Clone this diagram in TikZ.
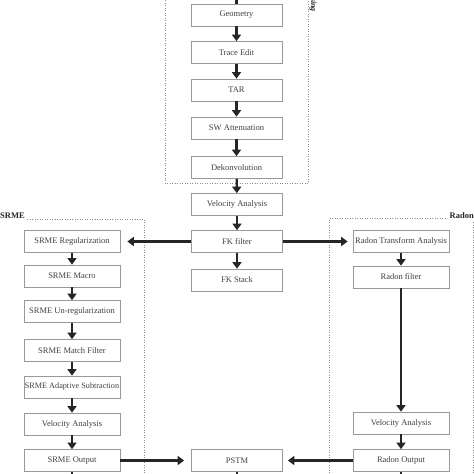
\documentclass[tikz,border=0pt]{standalone}
\usepackage{fontspec}
\setmainfont{Liberation Serif}
\usetikzlibrary{arrows.meta}
\begin{document}
\begin{tikzpicture}[x=1pt,y=-1pt,
  box/.style={draw=black!40, line width=0.7pt, fill=white, minimum width=91pt, minimum height=22pt, inner sep=1pt, font=\fontsize{8.5}{10}\selectfont, text=black!75},
  wbox/.style={box, minimum width=96pt},
  flow/.style={line width=2.3pt, draw=black!85, -{Triangle[length=6.5pt,width=9pt]}},
  plain/.style={line width=2.3pt, draw=black!85},
  grp/.style={draw=black!45, line width=0.5pt, dotted},
  grplabel/.style={font=\bfseries\fontsize{8.5}{10}\selectfont, text=black!85, inner sep=0pt}
]
\useasboundingbox (0,0) rectangle (474,474);
\clip (0,0) rectangle (474,474);
\fill[white] (0,0) rectangle (474,474);

% group frames
\draw[grp] (165,-5) -- (165,183) -- (308,183) -- (308,-5);
\node[grplabel, font=\bfseries\itshape\fontsize{8}{9}\selectfont, rotate=-90, anchor=east] (prelabel) at (313,12) {Preprocessing};
\draw[grp] (27,219) -- (144,219) -- (144,480);
\node[grplabel, anchor=south west] (srmelabel) at (0,219) {SRME};
\draw[grp] (329,480) -- (329,218) -- (446,218);
\draw[grp] (473,222) -- (473,480);
\node[grplabel, anchor=south east] (radonlabel) at (474,219) {Radon};

% centre column
\node[box] (geo) at (236.5,15) {Geometry};
\node[box] (trace) at (236.5,52.5) {Trace Edit};
\node[box] (tar) at (236.5,90) {TAR};
\node[box] (sw) at (236.5,128) {SW Attenuation};
\node[box] (dek) at (236.5,167.5) {Dekonvolution};
\node[box] (vel) at (237,204.5) {Velocity Analysis};
\node[box] (fkf) at (237,241.5) {FK filter};
\node[box] (fks) at (237,280) {FK Stack};
\node[box] (pstm) at (237,460.5) {PSTM};

% left column
\node[wbox] (sreg) at (72,241.5) {SRME Regularization};
\node[wbox] (smac) at (72,276) {SRME Macro};
\node[wbox] (sunr) at (72,311.5) {SRME Un-regularization};
\node[wbox] (smf) at (72,350.5) {SRME Match Filter};
\node[wbox, inner sep=0pt] (sas) at (72,387) {\fontsize{8.2}{10}\selectfont SRME Adaptive Subtraction};
\node[wbox] (svel) at (72,424) {Velocity Analysis};
\node[wbox] (sout) at (72,460.5) {SRME Output};

% right column
\node[wbox] (rta) at (401,241.5) {Radon Transform Analysis};
\node[wbox] (rfil) at (401,277) {Radon filter};
\node[wbox] (rvel) at (401,423) {Velocity Analysis};
\node[wbox] (rout) at (401,460.5) {Radon Output};

% off-picture ends
\coordinate (topin) at (236.5,-6);
\coordinate (sdown) at (72,484);
\coordinate (pdown) at (237,484);
\coordinate (rdown) at (401,484);

% connectors
\draw[plain] (topin) -- (geo.north);
\draw[flow] (geo) -- (trace);
\draw[flow] (trace) -- (tar);
\draw[flow] (tar) -- (sw);
\draw[flow] (sw) -- (dek);
\draw[flow] (dek) -- (vel);
\draw[flow] (vel) -- (fkf);
\draw[flow] (fkf) -- (fks);
\draw[flow, shorten >=7pt] (fkf.west) -- (sreg.east);
\draw[flow, shorten >=5pt] (fkf.east) -- (rta.west);
\draw[flow] (sreg) -- (smac);
\draw[flow] (smac) -- (sunr);
\draw[flow] (sunr) -- (smf);
\draw[flow] (smf) -- (sas);
\draw[flow] (sas) -- (svel);
\draw[flow] (svel) -- (sout);
\draw[flow] (rta) -- (rfil);
\draw[flow] (rfil) -- (rvel);
\draw[flow] (rvel) -- (rout);
\draw[flow, shorten >=7pt] (sout.east) -- (pstm.west);
\draw[flow, shorten >=5pt] (rout.west) -- (pstm.east);
\draw[plain] (sout.south) -- (sdown);
\draw[plain] (pstm.south) -- (pdown);
\draw[plain] (rout.south) -- (rdown);
\end{tikzpicture}
\end{document}
